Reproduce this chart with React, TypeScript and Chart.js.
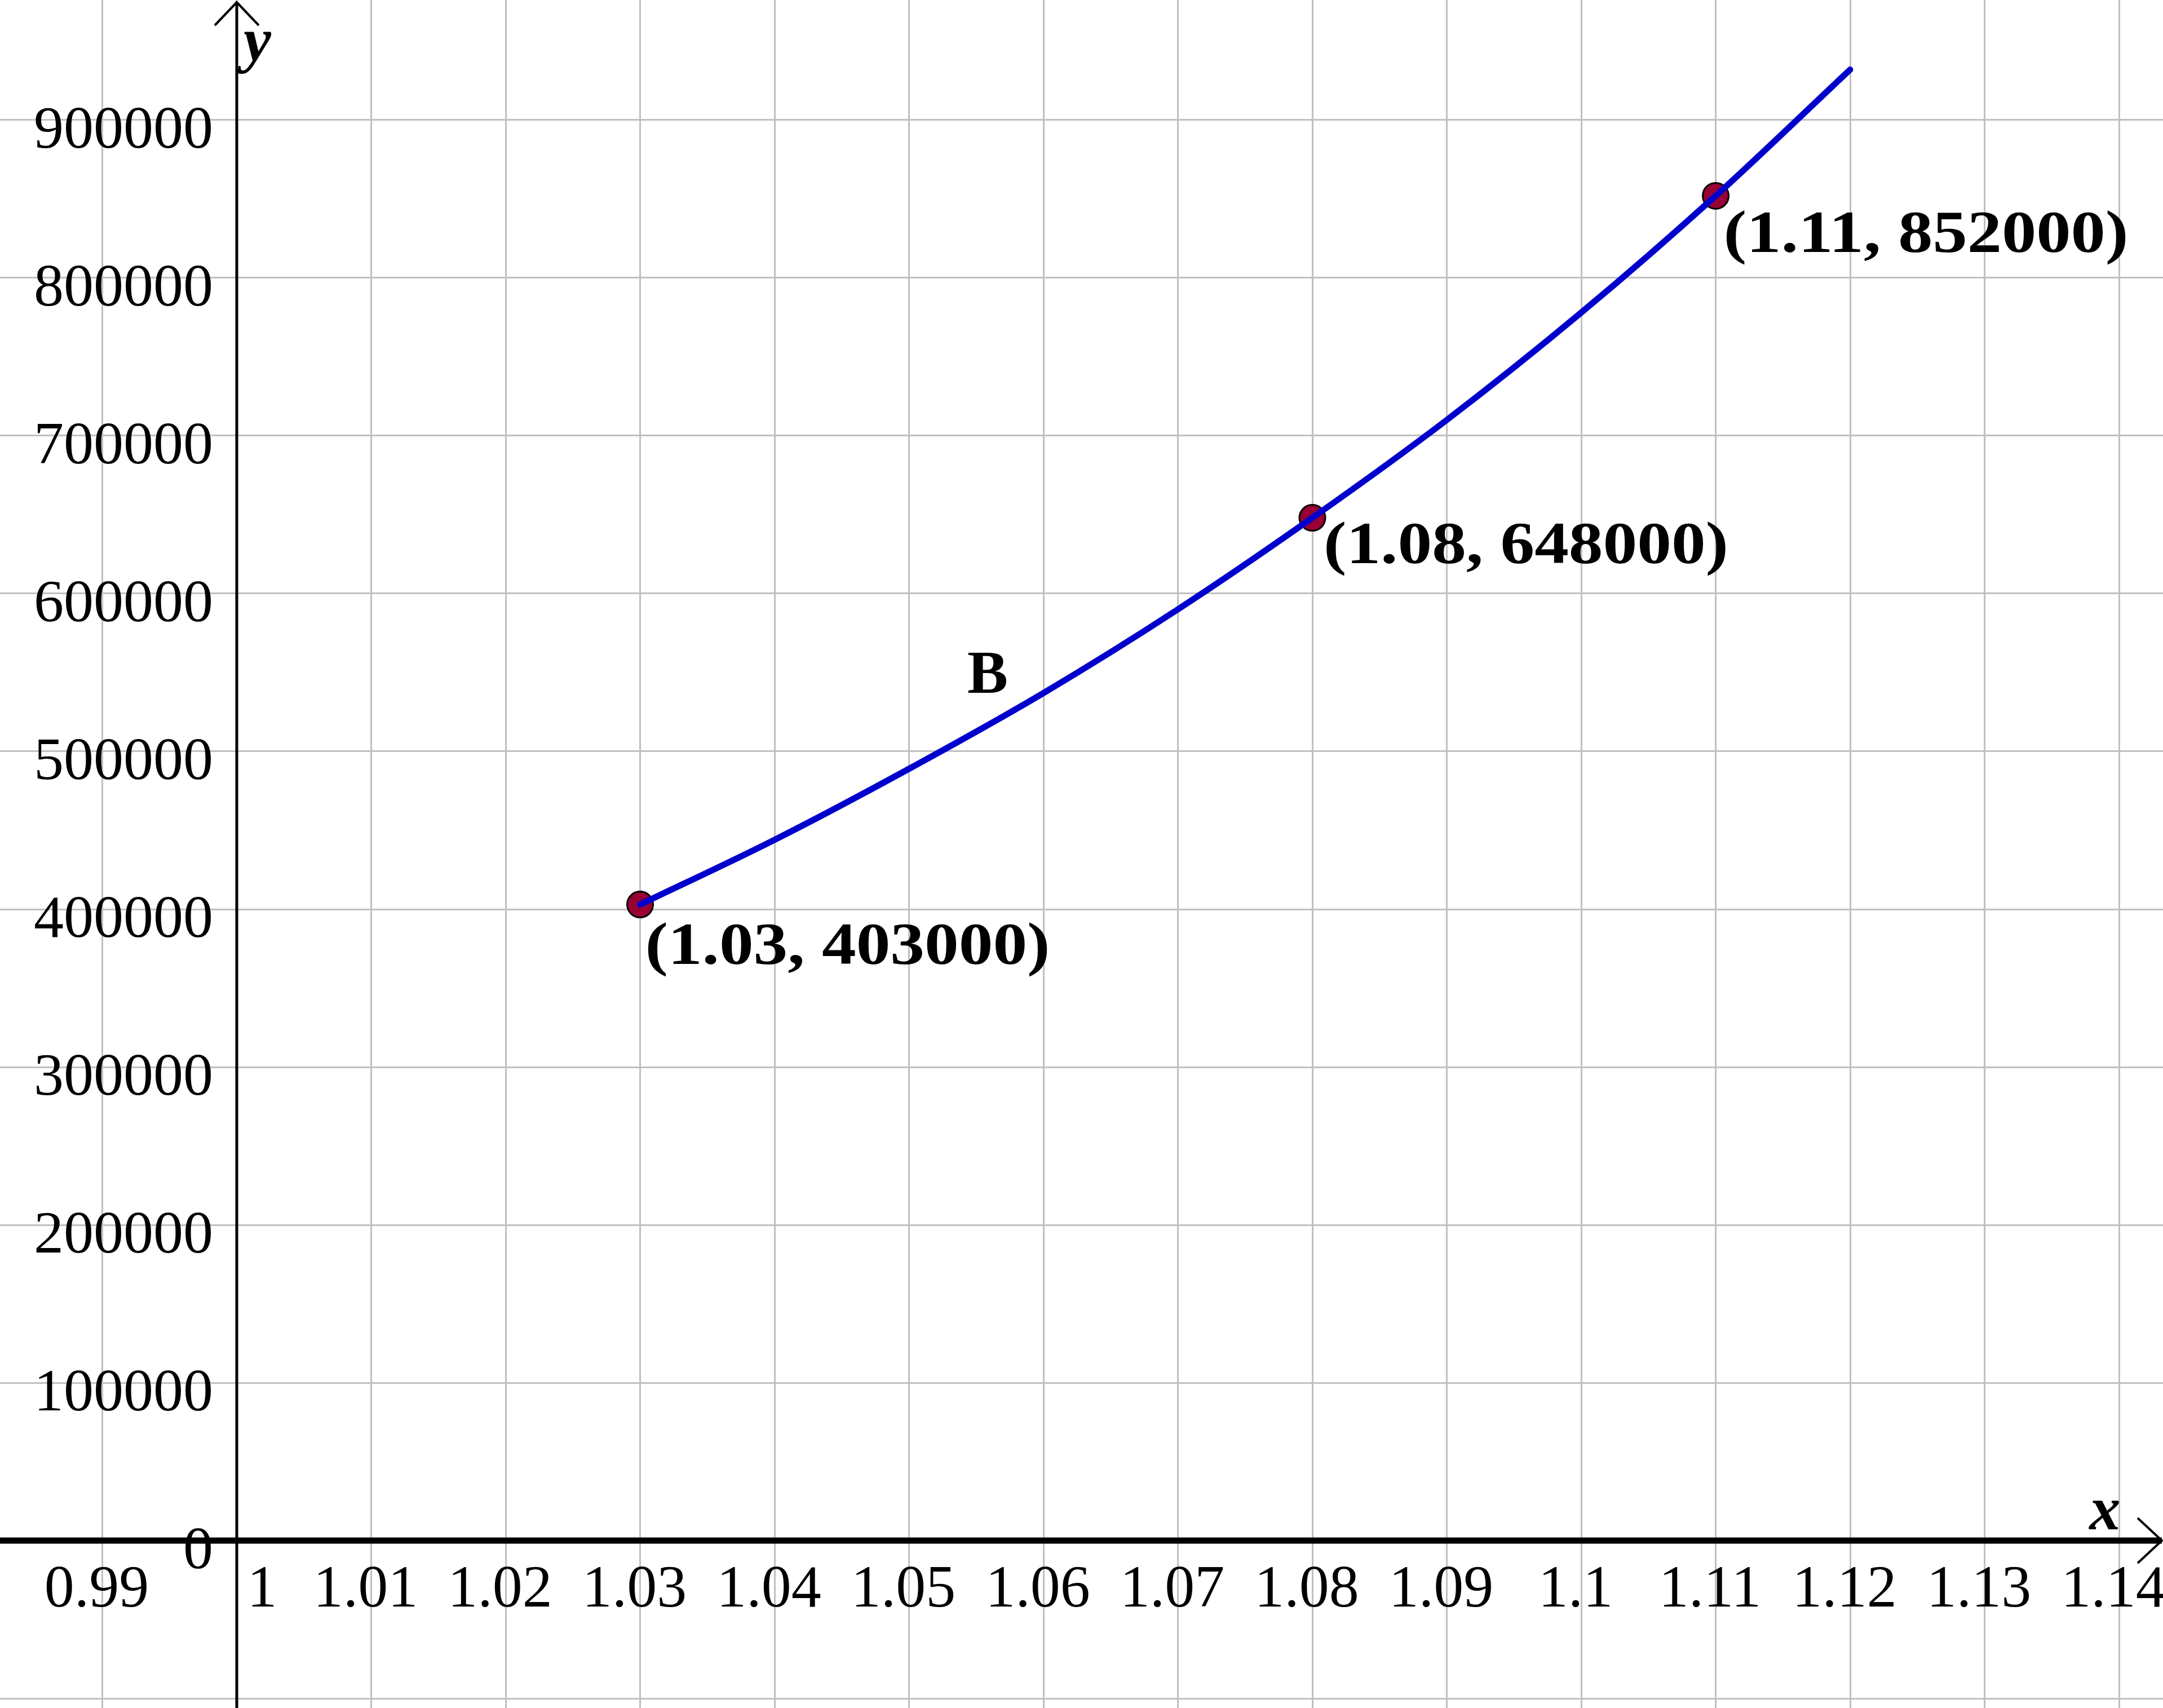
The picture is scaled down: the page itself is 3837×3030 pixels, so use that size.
import React, { useEffect, useRef } from "react";
import { Chart, registerables } from "chart.js";

Chart.register(...registerables);

// ---- data ----
const curveX = [1.03, 1.04, 1.05, 1.06, 1.07, 1.08, 1.09, 1.1, 1.11, 1.12];
const curveY = [403000, 444000, 489000, 537000, 590000, 648000, 710000, 778000, 852000, 932000];
const pointX = [1.03, 1.08, 1.11];
const pointY = [403000, 648000, 852000];
const pointLabels = ["(1.03, 403000)", "(1.08, 648000)", "(1.11, 852000)"];
const curveName = "B";
const xTickValues = [0.99, 1, 1.01, 1.02, 1.03, 1.04, 1.05, 1.06, 1.07, 1.08, 1.09, 1.1, 1.11, 1.12, 1.13, 1.14];
const xTickLabels = ["0.99", "1", "1.01", "1.02", "1.03", "1.04", "1.05", "1.06", "1.07", "1.08", "1.09", "1.1", "1.11", "1.12", "1.13", "1.14"];
const yTickValues = [-100000, 0, 100000, 200000, 300000, 400000, 500000, 600000, 700000, 800000, 900000];
const yTickLabels = ["", "0", "100000", "200000", "300000", "400000", "500000", "600000", "700000", "800000", "900000"];
const xAxisName = "x";
const yAxisName = "y";

// ---- style ----
const W = 3837;
const H = 3030;
const PAD = 26; // Chart.js reserves this for the point markers; canvas is shifted to hide it
const X_MIN = 0.98239;
const X_MAX = 1.14327;
const Y_MIN = -106071;
const Y_MAX = 976071;
const AXIS_CROSS_X = 1;
const FONT = "'Liberation Serif', 'Times New Roman', serif";
const labelOffsets = [
  { dx: 9, dy: 105 },
  { dx: 20, dy: 80 },
  { dx: 14, dy: 100 },
];

const overlay = {
  id: "overlay",
  beforeDatasetsDraw(chart: any) {
    const { ctx } = chart;
    const L = chart.chartArea.left;
    const T = chart.chartArea.top;
    const xs = chart.scales.x;
    const ys = chart.scales.y;
    const ax = xs.getPixelForValue(AXIS_CROSS_X) - L;
    const ay = ys.getPixelForValue(0) - T;
    ctx.save();
    ctx.translate(L, T);
    ctx.strokeStyle = "#000";
    ctx.lineCap = "butt";
    // y axis
    ctx.lineWidth = 5;
    ctx.beginPath();
    ctx.moveTo(ax, H);
    ctx.lineTo(ax, 4);
    ctx.stroke();
    ctx.lineWidth = 4;
    ctx.beginPath();
    ctx.moveTo(ax - 39, 45);
    ctx.lineTo(ax, 4);
    ctx.lineTo(ax + 39, 45);
    ctx.stroke();
    // x axis
    ctx.lineWidth = 11;
    ctx.beginPath();
    ctx.moveTo(0, ay);
    ctx.lineTo(W - 2, ay);
    ctx.stroke();
    ctx.lineWidth = 4;
    ctx.beginPath();
    ctx.moveTo(W - 45, ay - 40);
    ctx.lineTo(W - 2, ay);
    ctx.lineTo(W - 45, ay + 40);
    ctx.stroke();
    ctx.restore();
  },
  afterDatasetsDraw(chart: any) {
    const { ctx } = chart;
    const L = chart.chartArea.left;
    const T = chart.chartArea.top;
    const xs = chart.scales.x;
    const ys = chart.scales.y;
    const px = (v: number) => xs.getPixelForValue(v) - L;
    const py = (v: number) => ys.getPixelForValue(v) - T;
    const ax = px(AXIS_CROSS_X);
    const ay = py(0);
    ctx.save();
    ctx.translate(L, T);
    ctx.fillStyle = "#000";
    // y tick labels
    ctx.font = `106px ${FONT}`;
    ctx.textAlign = "right";
    ctx.textBaseline = "alphabetic";
    yTickValues.forEach((v, i) => {
      const t = yTickLabels[i];
      if (!t) return;
      ctx.fillText(t, ax - 42, py(v) + 49);
    });
    // x tick labels
    ctx.textAlign = "center";
    xTickValues.forEach((v, i) => {
      let x = px(v) - 10;
      if (Math.abs(v - AXIS_CROSS_X) < 1e-9) x = ax + 45;
      ctx.fillText(xTickLabels[i], x, ay + 117);
    });
    // axis names
    ctx.font = `bold italic 110px ${FONT}`;
    ctx.textAlign = "left";
    ctx.fillText(yAxisName, ax + 12, 108);
    ctx.textAlign = "center";
    ctx.fillText(xAxisName, W - 103, ay - 20);
    // curve name
    ctx.font = `bold 108px ${FONT}`;
    ctx.fillText(curveName, 1752, 1229);
    // point labels
    ctx.font = `bold 105px ${FONT}`;
    ctx.textAlign = "left";
    pointLabels.forEach((t, i) => {
      const x = px(pointX[i]) + labelOffsets[i].dx;
      const y = py(pointY[i]) + labelOffsets[i].dy;
      const w = ctx.measureText(t).width;
      ctx.save();
      ctx.translate(x, y);
      ctx.scale(718 / w, 1);
      ctx.fillText(t, 0, 0);
      ctx.restore();
    });
    ctx.restore();
  },
};

export default function App() {
  const ref = useRef<HTMLCanvasElement | null>(null);
  useEffect(() => {
    document.body.style.margin = "0";
    document.body.style.overflow = "hidden";
    const canvas = ref.current!;
    const chart = new Chart(canvas, {
      type: "scatter",
      data: {
        datasets: [
          {
            label: curveName,
            data: curveX.map((x, i) => ({ x, y: curveY[i] })),
            showLine: true,
            borderColor: "#0000cc",
            borderWidth: 11,
            borderCapStyle: "round",
            cubicInterpolationMode: "monotone",
            pointRadius: 0,
            pointHoverRadius: 0,
          },
          {
            label: "points",
            data: pointX.map((x, i) => ({ x, y: pointY[i] })),
            showLine: false,
            pointRadius: 23,
            pointHoverRadius: 23,
            pointBackgroundColor: "#990033",
            pointBorderColor: "#000",
            pointBorderWidth: 3,
            backgroundColor: "#990033",
            borderColor: "#000",
          },
        ],
      },
      options: {
        responsive: false,
        animation: false,
        devicePixelRatio: 1,
        layout: { padding: 0 },
        plugins: { legend: { display: false }, tooltip: { enabled: false } },
        scales: {
          x: {
            type: "linear",
            min: X_MIN,
            max: X_MAX,
            afterBuildTicks: (s: any) => {
              s.ticks = xTickValues.map((v) => ({ value: v }));
            },
            ticks: { display: false },
            grid: { color: "#c0c0c0", lineWidth: 3, drawTicks: false },
            border: { display: false },
          },
          y: {
            type: "linear",
            min: Y_MIN,
            max: Y_MAX,
            afterBuildTicks: (s: any) => {
              s.ticks = yTickValues.map((v) => ({ value: v }));
            },
            ticks: { display: false },
            grid: { color: "#c0c0c0", lineWidth: 3, drawTicks: false },
            border: { display: false },
          },
        },
      },
      plugins: [overlay],
    } as any);
    return () => chart.destroy();
  }, []);
  return (
    <div style={{ position: "absolute", left: 0, top: 0, width: W, height: H, overflow: "hidden", background: "#fff" }}>
      <canvas
        ref={ref}
        width={W + 2 * PAD}
        height={H + 2 * PAD}
        style={{ position: "absolute", left: -PAD, top: -PAD, display: "block", width: W + 2 * PAD, height: H + 2 * PAD }}
      />
    </div>
  );
}
